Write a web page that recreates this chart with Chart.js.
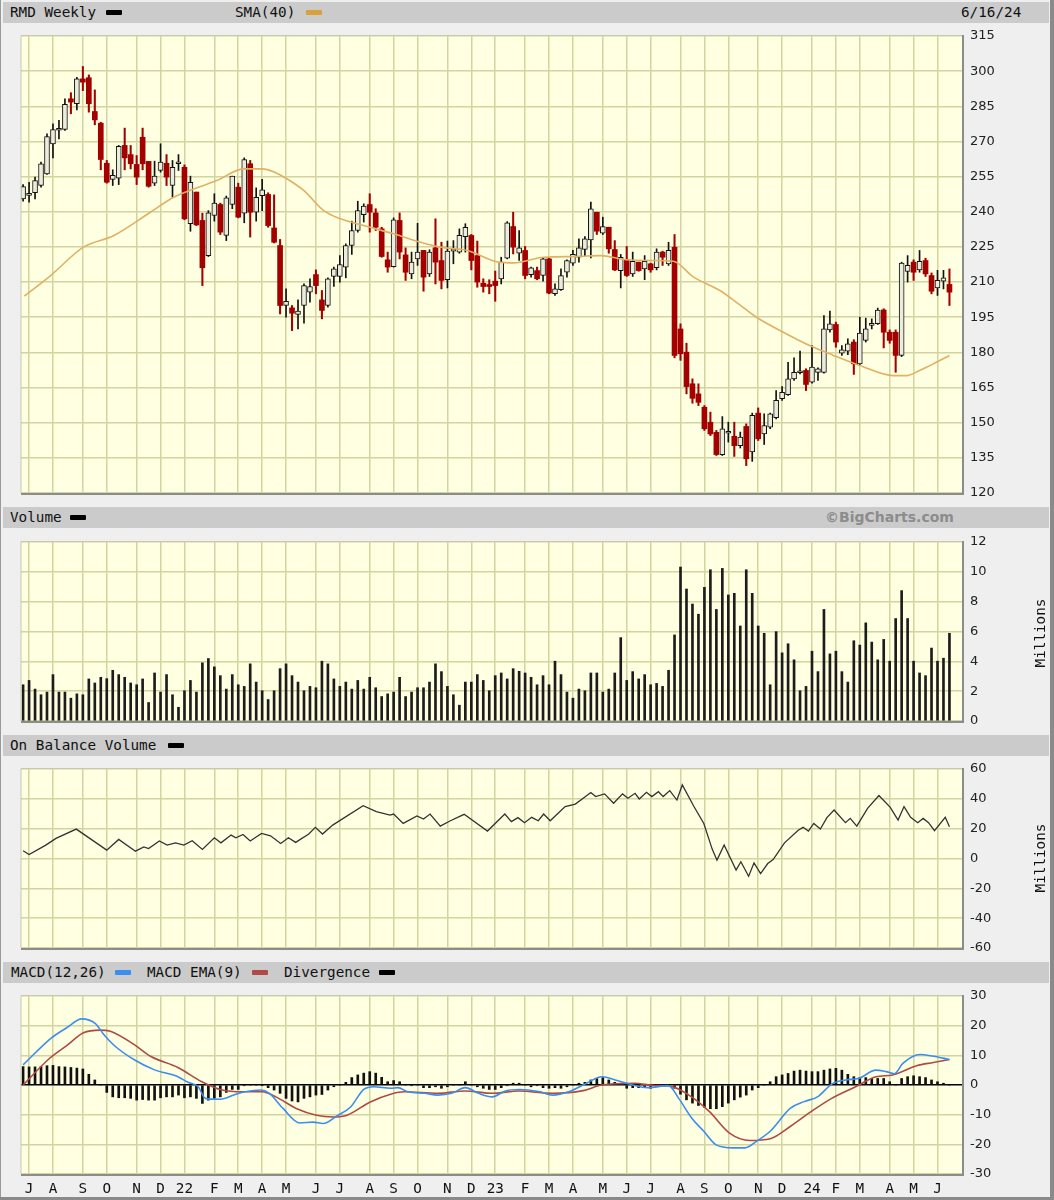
<!DOCTYPE html>
<html><head><meta charset="utf-8">
<script src="https://cdn.jsdelivr.net/npm/chart.js@4.4.1/dist/chart.umd.min.js"></script>
<style>
html,body{margin:0;padding:0;background:#fff;}
#wrap{position:relative;width:1054px;height:1200px;background:#efefef;overflow:hidden;font-family:"DejaVu Sans Mono",monospace;}
.strip{position:absolute;left:3px;width:1046px;height:21px;background:#cbcbcb;font-size:14.3px;line-height:21px;color:#111;}
.strip span{position:absolute;top:0;white-space:pre;}
.sw{position:absolute;top:8px;width:16px;height:5px;border-radius:1px;}
canvas{position:absolute;left:0;}
.mil{position:absolute;transform:translate(-50%,-50%) rotate(-90deg);font-size:14.3px;color:#111;white-space:nowrap;}
.bc{font-family:"DejaVu Sans",sans-serif;font-weight:bold;color:#8c8c8c;font-size:14px;}
.frame{position:absolute;z-index:5;}
</style></head>
<body>
<div id="wrap">
  <div class="strip" style="top:2px">
    <span style="left:7px">RMD Weekly</span><div class="sw" style="left:103px;background:#000"></div>
    <span style="left:232px">SMA(40)</span><div class="sw" style="left:303px;background:#d9a03c"></div>
    <span style="left:958px">6/16/24</span>
  </div>
  <div class="strip" style="top:507px">
    <span style="left:7px">Volume</span><div class="sw" style="left:67px;background:#000"></div>
    <span class="bc" style="left:822px">©BigCharts.com</span>
  </div>
  <div class="strip" style="top:735px">
    <span style="left:7px">On Balance Volume</span><div class="sw" style="left:165px;background:#000"></div>
  </div>
  <div class="strip" style="top:962px">
    <span style="left:8px">MACD(12,26)</span><div class="sw" style="left:112px;background:#3a8ef0"></div>
    <span style="left:144px">MACD EMA(9)</span><div class="sw" style="left:249px;background:#b04a44"></div>
    <span style="left:281px">Divergence</span><div class="sw" style="left:376px;background:#000"></div>
  </div>

  <canvas id="cPrice" width="1054" height="489" style="top:20px"></canvas>
  <canvas id="cVol" width="1054" height="211" style="top:526px"></canvas>
  <canvas id="cObv" width="1054" height="211" style="top:753px"></canvas>
  <canvas id="cMacd" width="1054" height="222" style="top:980px"></canvas>

  <div class="mil" style="left:1040px;top:633px">Millions</div>
  <div class="mil" style="left:1040px;top:858px">Millions</div>

  <div class="frame" style="left:0;top:0;width:1px;height:1200px;background:#9a9a9a"></div>
  <div class="frame" style="left:1050px;top:0;width:4px;height:1200px;background:#8a8a8a"></div>
  <div class="frame" style="left:0;top:1197px;width:1054px;height:3px;background:#8a8a8a"></div>
</div>
<script>
// ---------------- DATA ----------------
const monthLabels = ['J','A','S','O','N','D','22','F','M','A','M','J','J','A','S','O','N','D','23','F','M','A','M','J','J','A','S','O','N','D','24','F','M','A','M','J'];
const firstWeekUTC = Date.UTC(2021,5,21); // Monday of first weekly candle

const open = [245.5,247.0,248.1,251.2,256.2,269.0,274.8,275.1,288.2,286.1,296.7,297.2,282.8,277.8,260.7,253.8,254.3,268.3,264.4,260.2,271.8,261.5,252.2,257.6,260.7,251.2,260.5,259.0,234.9,248.4,236.3,221.3,238.4,243.1,229.9,243.1,250.5,239.4,260.5,239.8,246.9,247.4,233.1,225.6,200.0,199.0,196.2,200.0,205.7,213.2,202.4,200.0,212.4,212.4,216.4,225.6,232.0,238.8,243.1,239.5,232.7,219.5,216.6,236.3,221.6,213.5,219.9,223.5,213.5,224.6,219.2,211.0,223.2,222.8,229.4,229.9,221.3,209.5,208.8,210.4,211.4,220.2,233.7,222.3,223.5,213.2,214.9,212.8,219.9,205.0,206.8,214.2,218.1,220.6,223.9,228.0,239.8,230.9,233.4,223.9,214.9,219.5,213.5,218.5,215.6,217.8,216.1,222.8,217.8,224.9,190.0,180.1,166.6,162.3,156.6,150.2,145.9,136.4,145.5,144.2,140.2,148.4,137.5,154.1,145.2,148.1,152.1,160.2,162.0,168.7,171.3,172.3,167.3,171.5,171.5,189.6,191.9,179.7,180.5,184.4,175.1,185.1,191.5,192.2,198.1,188.6,188.6,178.7,214.6,218.5,215.2,219.2,212.8,207.5,210.4,209.0];
const high = [251.6,252.6,254.8,261.2,273.3,277.5,279.0,288.2,290.8,297.4,302.0,298.4,292.0,278.2,261.9,257.9,268.3,275.7,268.3,264.0,275.7,261.5,261.6,269.0,264.4,261.9,264.4,260.0,255.2,248.4,239.4,240.5,247.7,243.7,246.7,255.2,252.2,263.0,261.9,250.2,253.8,248.1,247.2,228.2,207.1,200.0,202.4,209.2,211.4,215.2,206.4,211.8,216.4,221.3,226.3,236.0,244.5,243.4,247.7,241.3,233.4,222.8,237.4,239.5,224.6,222.8,235.1,223.5,223.8,237.0,227.0,227.5,227.7,232.7,234.9,230.3,227.5,211.4,211.0,214.7,220.6,235.8,239.8,232.0,225.2,216.4,216.4,220.6,220.2,209.2,215.6,219.5,223.5,228.4,229.4,244.1,239.8,237.7,233.4,227.7,221.8,225.2,222.8,218.5,221.3,218.1,224.2,223.2,227.0,230.3,192.2,183.9,168.7,166.6,157.3,154.5,146.7,152.6,150.2,150.2,146.0,149.5,154.1,156.3,153.8,154.1,163.7,165.4,175.8,177.7,180.6,173.0,182.9,173.4,195.7,197.6,192.9,182.9,185.8,185.4,195.0,194.6,194.3,198.9,198.6,189.6,189.6,218.5,221.3,219.5,223.5,220.2,213.9,215.0,215.0,215.6];
const low = [244.5,244.1,245.5,250.5,255.9,263.0,271.1,274.7,281.8,283.5,291.7,282.5,277.1,257.9,252.2,251.2,251.6,257.9,258.3,251.6,257.9,250.5,251.2,256.9,251.2,246.2,257.6,236.6,231.7,234.1,208.5,220.9,236.0,230.3,227.7,241.3,237.4,235.3,229.2,236.0,240.5,233.4,226.7,196.4,195.0,189.3,190.0,192.5,201.4,205.0,194.3,199.3,208.1,210.0,211.8,221.8,231.3,235.6,231.3,232.0,220.6,214.2,216.4,219.9,210.7,211.4,217.1,206.1,212.4,209.2,207.1,207.5,217.8,222.3,222.8,215.2,207.8,205.7,205.0,201.8,209.2,219.9,222.0,219.2,211.4,212.1,211.0,210.4,205.0,204.3,206.4,212.1,217.1,218.5,221.3,220.3,230.3,230.3,222.3,214.9,207.5,212.4,212.4,214.6,211.0,214.2,215.2,217.1,217.1,177.7,176.6,162.3,158.3,157.3,146.7,144.5,136.0,136.0,141.7,135.6,139.2,131.7,133.5,142.4,140.7,147.4,151.6,159.5,161.6,168.0,170.8,163.7,166.9,168.0,171.1,188.6,182.2,178.7,179.0,170.6,174.7,184.4,190.0,191.9,181.9,183.9,171.5,178.2,210.0,210.7,214.2,212.4,205.0,204.3,207.1,200.0];
const close = [250.8,247.5,253.3,260.5,272.1,275.1,275.5,285.8,286.8,296.7,295.3,286.1,279.2,262.3,252.6,255.5,267.9,263.0,260.5,254.8,260.5,250.9,255.2,261.2,254.8,259.0,260.9,237.0,252.6,234.4,216.1,239.5,243.7,231.3,245.9,255.2,237.7,262.3,239.8,246.2,249.4,234.1,227.0,200.0,201.8,196.7,197.6,208.5,208.1,208.5,197.9,211.4,215.6,217.5,225.6,232.0,240.5,242.4,239.8,233.4,220.9,216.4,236.6,222.8,214.2,218.5,222.8,212.1,222.8,218.5,210.7,223.2,224.2,229.9,233.4,219.2,210.0,208.1,208.1,208.5,218.5,235.3,224.9,224.6,212.8,216.1,211.4,219.9,205.3,207.1,212.8,219.2,221.8,224.6,228.4,241.3,231.7,233.7,224.2,215.2,220.6,212.8,218.9,214.9,218.9,215.2,222.8,220.6,223.5,178.7,179.4,165.4,160.4,158.7,147.4,145.2,136.4,147.4,146.2,140.2,143.9,134.6,153.1,143.1,148.8,153.8,159.5,163.0,168.7,171.5,171.8,166.3,173.7,173.0,190.0,192.2,184.4,181.1,183.6,175.1,188.2,190.0,192.2,198.1,188.6,185.1,178.7,218.1,217.1,214.2,218.9,213.5,206.1,210.7,211.8,205.7];

// SMA(40) read at points along the curve: [week index, value]
const smaWeek = [0.2,4.6,10.1,15.2,21.3,25.2,29.1,32.4,36.9,40,42,44.2,47,50.3,53.1,57,62,66.5,69.8,74.3,79.6,82.1,87.1,92.6,96.6,101,105.5,108.8,112.2,116.6,119.7,122.7,127.2,131.6,135.6,140,145.6,147.8,150,152.3,155];
const smaVal  = [204,212.8,224.9,229.9,239.8,246.2,250.2,253.3,258.3,258.3,257,254,249,240.5,237,234.1,230.6,227,224.9,223.5,218.5,218.2,220.6,220.9,221.3,219.5,219.2,218.9,212.1,206.4,200.7,195,188.6,182.9,178.7,174.4,170.1,170.1,172.3,175.1,178.7];

// Volume, millions
const volume = [2.43,2.72,2.14,1.76,1.94,3.11,1.94,1.94,1.53,1.82,1.76,2.82,2.55,2.93,2.84,3.40,3.11,2.93,2.55,2.43,2.82,1.24,3.22,1.94,3.11,1.76,0.92,2.03,2.72,1.94,3.90,4.19,3.63,3.04,2.14,3.11,2.43,2.32,3.83,2.61,2.03,1.44,2.03,3.51,3.83,3.04,2.61,2.03,2.32,2.23,4.01,3.83,2.82,2.32,2.61,2.14,2.72,2.14,2.93,2.23,1.64,1.82,1.94,2.93,1.64,1.94,2.23,2.23,2.61,3.83,3.31,2.32,1.76,1.06,2.61,2.61,3.11,2.72,2.03,3.04,3.22,2.82,3.51,3.33,3.22,2.93,2.43,3.04,2.43,4.01,3.11,1.94,1.53,2.14,2.03,3.22,3.22,1.94,2.14,3.22,5.59,2.72,3.31,2.82,3.11,2.43,2.52,2.32,3.40,5.77,10.32,8.85,7.84,7.16,8.96,10.14,7.48,10.23,8.45,8.56,6.37,10.14,8.56,6.37,5.88,2.43,5.99,4.57,5.18,4.10,2.03,2.32,4.68,3.31,7.48,4.50,4.68,3.31,2.61,5.38,5.09,6.58,5.29,4.10,5.47,4.01,6.87,8.74,6.87,4.01,3.22,3.04,4.89,4.01,4.21,5.88];

// On Balance Volume (millions), read at the turning points
const obvWeek = [0,1,3.8,5.5,8.9,14,16,18.8,20.2,21,22.8,24.1,25.5,26.9,28.3,30,32,33.1,34.8,35.6,36.8,38,39.9,41.4,43.1,44.4,45.6,47.8,48.9,50.1,51.8,56.9,59.1,61.4,62,63.6,65.9,67,68.1,69.8,71.5,73.8,77.7,80.6,81.7,82.8,83.9,85.1,86.2,87.1,88.2,90.7,92.4,95,95.8,97.3,98.8,100.3,101.2,102.4,103.1,104.3,105.2,106.3,107.1,108.2,109.4,110.3,112.2,113.9,115.3,116.1,117.3,119.3,120.1,121.4,122.3,123.4,124.6,125.5,127.4,129.7,130.5,131.4,132.3,133.4,134.5,135.7,137.6,138.4,139.5,141.3,143.2,145.1,146.4,147.4,148.5,149.7,150.6,151.5,152.5,154.3,155];
const obvVal  = [5.2,2.7,9,13.5,19.7,5.6,12.8,4.9,7.8,6.7,11.7,9,10.5,9,11.9,6.1,13.9,10.5,15.7,13.9,16.1,11.7,16.8,15.2,10.1,13.9,10.8,16.4,20.9,16.4,22.4,35.4,31.4,29.1,29.8,23.5,28.5,26.5,29.8,21.7,25.3,29.6,18.4,29.8,24.7,27.4,24,27.6,25.3,29.8,25.3,34.8,36.5,44.2,41.5,43.3,37,43.3,40.4,43.7,39.9,44.4,41.5,44.8,41.5,45.5,39.2,49.3,35.2,23.5,6.3,-1.1,9,-7.8,-2.2,-11.9,-2.9,-10.1,-3.4,-0.7,10.5,19,20.9,18.4,23.5,19.7,27.4,32.5,24,26.9,21.7,33.6,42.2,34.3,25.8,34.8,27.6,24,26.9,24,18.6,27.6,21.3];

// MACD(12,26) line and EMA(9) signal
const macdWeek = [0,4.75,7.3,9.8,12.1,13.5,15.2,18.6,22,25.9,27.6,29.3,30.5,33,35.5,37.2,39.8,41.2,43.5,46.3,48.5,50.2,52.5,54.8,57,58.7,61.5,62.7,64.4,67.2,69.4,71.7,74,76.2,78.5,80.7,83,86.3,88.6,91.4,94.3,96.8,99.4,101.7,104.5,108,109.7,111.9,113.9,115.9,118.8,120.8,122.7,125,128.4,130.7,133,135.3,137.6,139.8,142.7,144.4,145.8,147.2,150.1,152.3,155];
const macdVal  = [6.8,15.9,19.3,22.3,20.7,17,13.4,8.5,5.1,2.8,0.9,-0.6,-4.5,-4.8,-3.2,-2.3,-1.7,-2.8,-7.9,-12.8,-12.5,-13,-10.4,-7.4,-1.5,-0.6,-1.1,-0.9,-2.3,-2.8,-3.4,-2.8,-0.9,-2.8,-4,-2,-1.5,-2.2,-3.4,-2.2,0.6,2.8,1.5,0.2,-0.9,-0.2,-4.5,-11.2,-15.6,-20.1,-21.2,-21.2,-19,-15.6,-7.8,-5.6,-3.9,0.3,1.7,2.2,5,4.5,3.8,7.3,10.3,9.7,8.6];
const sigWeek  = [0,4.5,7.3,10.1,12.9,14.6,18.6,21.4,25.9,29.9,33.3,36.7,40,42.3,45.7,49.1,51.9,54.2,58.1,61.5,63.8,69.4,74,78.5,83,88.6,93.7,96.8,102.3,105.7,108,111.4,114.8,118.2,121.6,125,128.4,131.9,135.3,139.3,142.7,145.5,149.5,152.3,155];
const sigVal   = [0,9.1,13.3,17.6,18.5,18.1,13.6,9.6,5.9,1.1,-1.7,-2.3,-2.3,-4,-7.9,-10.2,-10.8,-10.2,-5.7,-3.1,-2.3,-2.8,-2,-2.8,-2,-2.8,-1.9,0,0.6,-0.2,-0.3,-3.4,-8.9,-16.2,-18.7,-18.1,-13.9,-8.9,-4.5,-0.6,2.8,3.4,6.5,7.6,8.6];
// Divergence histogram, one bar per week
const divergence = [6.2,6.1,6.1,6.2,6.5,6.6,6.2,6.1,5.9,5.7,5.4,3.6,1.7,0,-2.5,-4,-4.3,-4.3,-4.5,-5.1,-4.9,-5.1,-5.1,-4.3,-4,-4,-3.4,-4.3,-4,-4.5,-6.2,-5.1,-4.5,-4,-2.5,-1.5,-1.5,-0.2,0,0,-0.2,-0.9,-1.7,-2.8,-4.5,-5.4,-5.7,-4.5,-4,-3.4,-3.2,-1.7,-0.6,0,0.9,2.5,3.4,4,4.5,4,2.6,1.1,1.5,1.1,0,-0.2,0,-0.9,-0.9,-0.6,-1.1,-0.6,0,0,1.1,0,-0.6,-1.1,-1.5,-1.5,-0.9,-0.2,0.6,0.6,0,-0.6,-0.2,-0.9,-1.1,-0.9,-1.1,-0.6,0,0.6,0.9,1.7,2.2,2.5,1.7,0.9,0.6,-1.1,-0.9,-0.9,-0.9,-1.1,-0.6,-0.2,-0.2,-1.1,-3.1,-5,-6.1,-6.9,-7.5,-8,-8,-7.3,-6.1,-5,-4.1,-3.4,-1.7,-0.9,0,1.1,2.8,3.4,3.9,4.7,5,4.7,4.5,4.5,5,5.4,5.6,5,3.6,2.8,2.5,2.5,2.2,2.2,2.2,1.1,0,2.2,2.8,3.1,2.8,2.5,1.7,1.1,0.6,0];

// Axis tick labels
const priceTicks = [120,135,150,165,180,195,210,225,240,255,270,285,300,315];
const volTicks   = [0,2,4,6,8,10,12];
const obvTicks   = [-60,-40,-20,0,20,40,60];
const macdTicks  = [-30,-20,-10,0,10,20,30];

// ---------------- STYLE ----------------
const PLOT_BG = '#ffffe1';
const GRID = '#d4d4a0';
const GRID_W = 1.5;
const MONO = '"DejaVu Sans Mono", monospace';
const XMIN = -0.35, XMAX = 157.1;

const monthTicks = monthLabels.map((_, k) => Math.floor((Date.UTC(2021, 6 + k, 1) - firstWeekUTC) / (7 * 864e5)));

const panelPlugin = {
  id: 'panel',
  beforeDraw(c) {
    const a = c.chartArea, x = c.ctx;
    x.save(); x.fillStyle = PLOT_BG; x.fillRect(a.left, a.top, a.right - a.left, a.bottom - a.top); x.restore();
  },
  afterDraw(c) {
    const a = c.chartArea, x = c.ctx;
    x.save();
    x.strokeStyle = '#c8c8b0'; x.lineWidth = 1;
    x.beginPath(); x.moveTo(a.left, a.bottom); x.lineTo(a.left, a.top - 0.5); x.lineTo(a.right, a.top - 0.5); x.stroke();
    x.strokeStyle = '#8c8c8c'; x.lineWidth = 2;
    x.beginPath(); x.moveTo(a.left, a.bottom + 1); x.lineTo(a.right + 1, a.bottom + 1); x.lineTo(a.right + 1, a.top - 1); x.stroke();
    x.restore();
  }
};

function xScale(showLabels) {
  return {
    type: 'linear', min: XMIN, max: XMAX, offset: false,
    afterBuildTicks(s) { s.ticks = monthTicks.map(v => ({ value: v })); },
    afterFit(s) { s.height = showLabels ? 28 : 0; },
    grid: { color: GRID, lineWidth: GRID_W, drawTicks: false, offset: false },
    border: { display: false },
    ticks: {
      display: showLabels, autoSkip: false, maxRotation: 0, minRotation: 0, padding: 7,
      color: '#111', font: { family: MONO, size: 14.3 },
      callback: (v, i) => monthLabels[i]
    }
  };
}
function yScale(tickList, zeroBlack) {
  return {
    position: 'right', min: tickList[0], max: tickList[tickList.length - 1],
    afterBuildTicks(s) { s.ticks = tickList.map(v => ({ value: v })); },
    afterFit(s) { s.width = 92; },
    grid: {
      color: zeroBlack ? (ctx => (ctx.tick && ctx.tick.value === 0) ? '#000' : GRID) : GRID,
      lineWidth: GRID_W, drawTicks: false
    },
    border: { display: false },
    ticks: { padding: 8, color: '#222', font: { family: '"DejaVu Sans", sans-serif', size: 13, lineHeight: '16px' } }
  };
}
function baseOptions(yCfg, showX) {
  return {
    responsive: false, animation: false, devicePixelRatio: 1, events: [],
    layout: { padding: { left: 21, right: 0, top: 0, bottom: 0 } },
    plugins: { legend: { display: false }, tooltip: { enabled: false } },
    scales: { x: xScale(showX), y: yCfg }
  };
}

// ---------------- PRICE ----------------
const idx = open.map((_, i) => i);
const isUp = i => close[i] >= open[i];
const wickUp = idx.filter(isUp).map(i => ({ x: i, y: [low[i], high[i]] }));
const wickDn = idx.filter(i => !isUp(i)).map(i => ({ x: i, y: [low[i], high[i]] }));
const bodyUp = idx.filter(isUp).map(i => ({ x: i, y: [open[i], close[i]] }));
const bodyDn = idx.filter(i => !isUp(i)).map(i => ({ x: i, y: [close[i], open[i]] }));
const smaPts = smaWeek.map((w, k) => ({ x: w, y: smaVal[k] }));

new Chart(document.getElementById('cPrice'), {
  type: 'bar',
  data: { datasets: [
    { type: 'line', data: smaPts, borderColor: '#e2b062', borderWidth: 1.6, pointRadius: 0, cubicInterpolationMode: 'monotone', order: 1 },
    { data: bodyUp, backgroundColor: '#ececdc', borderColor: '#111', borderWidth: 1, borderSkipped: false, barThickness: 5, grouped: false, minBarLength: 2, order: 2 },
    { data: bodyDn, backgroundColor: '#a40000', borderWidth: 0, barThickness: 5, grouped: false, minBarLength: 2, order: 2 },
    { data: wickUp, backgroundColor: '#111', barThickness: 1, grouped: false, order: 3 },
    { data: wickDn, backgroundColor: '#a40000', barThickness: 1.4, grouped: false, order: 3 }
  ] },
  options: baseOptions(yScale(priceTicks, false), false),
  plugins: [panelPlugin]
});

// ---------------- VOLUME ----------------
new Chart(document.getElementById('cVol'), {
  type: 'bar',
  data: { datasets: [ { data: volume.map((v, i) => ({ x: i, y: v })), backgroundColor: '#1c1c1c', barThickness: 2, grouped: false } ] },
  options: baseOptions(yScale(volTicks, false), false),
  plugins: [panelPlugin]
});

// ---------------- OBV ----------------
new Chart(document.getElementById('cObv'), {
  type: 'line',
  data: { datasets: [ { data: obvWeek.map((w, k) => ({ x: w, y: obvVal[k] })), borderColor: '#333', borderWidth: 1.3, pointRadius: 0, tension: 0 } ] },
  options: baseOptions(yScale(obvTicks, false), false),
  plugins: [panelPlugin]
});

// ---------------- MACD ----------------
new Chart(document.getElementById('cMacd'), {
  type: 'bar',
  data: { datasets: [
    { type: 'line', data: macdWeek.map((w, k) => ({ x: w, y: macdVal[k] })), borderColor: '#3a8ef0', borderWidth: 1.6, pointRadius: 0, cubicInterpolationMode: 'monotone', order: 1 },
    { type: 'line', data: sigWeek.map((w, k) => ({ x: w, y: sigVal[k] })), borderColor: '#b04a44', borderWidth: 1.6, pointRadius: 0, cubicInterpolationMode: 'monotone', order: 2 },
    { data: divergence.map((v, i) => ({ x: i, y: v })), backgroundColor: '#111', barThickness: 2, grouped: false, order: 3 }
  ] },
  options: baseOptions(yScale(macdTicks, true), true),
  plugins: [panelPlugin]
});
</script>
</body></html>
